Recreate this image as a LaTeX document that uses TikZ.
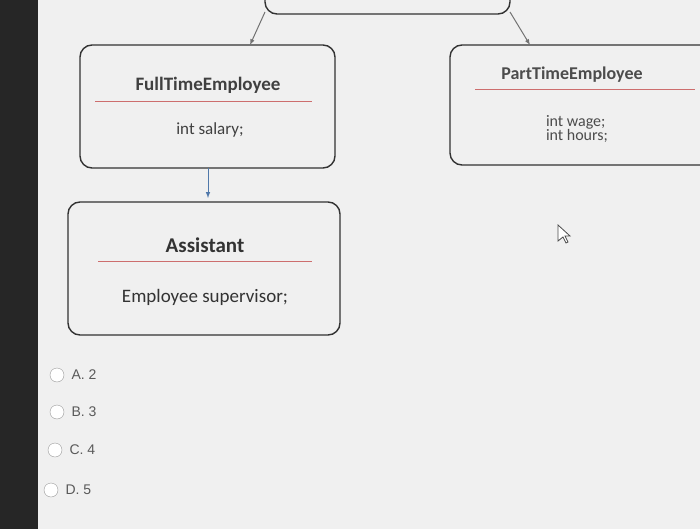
\documentclass[tikz,border=0pt]{standalone}
\usepackage{fontspec}
\setmainfont{Carlito}
\setsansfont{Liberation Sans}
\definecolor{sepred}{RGB}{205,110,110}
\definecolor{arrblue}{RGB}{80,120,170}
\begin{document}
\begin{tikzpicture}[x=1pt,y=-1pt,
  cls/.style={draw=black!80,line width=1.4pt,rounded corners=12pt},
  sep/.style={draw=sepred,line width=0.8pt},
  arr/.style={draw=black!55,line width=1pt,-latex},
  radio/.style={circle,draw=black!40,fill=white,minimum size=14pt,inner sep=0pt},
  opt/.style={font=\sffamily\fontsize{14}{16}\selectfont,text=black!65,anchor=west}]
\fill[gray!12] (0,0) rectangle (700,529);
\fill[black!85] (0,0) rectangle (38,529);
\useasboundingbox (0,0) rectangle (700,529);
\coordinate (tl) at (265,12);
\coordinate (tr) at (510,12);
\draw[cls] (265,-20) rectangle (510,14);
\draw[cls] (80,45) rectangle (335,168);
\node (fte) at (208,85) {\fontsize{19}{22}\selectfont\bfseries\color{black!75}FullTimeEmployee};
\draw[sep] (95,101) -- (312,101);
\node (sal) at (210,130) {\fontsize{17}{20}\selectfont\color{black!75}int salary;};
\draw[cls] (450,45) rectangle (720,165);
\node (pte) at (572,75) {\fontsize{18}{21}\selectfont\bfseries\color{black!70}PartTimeEmployee};
\draw[sep] (475,89) -- (695,89);
\node[align=left] (wage) at (577,129) {\fontsize{16}{22}\selectfont\color{black!70}int wage;\\\fontsize{16}{22}\selectfont\color{black!70}int hours;};
\coordinate (fb) at (250,45);
\coordinate (pb) at (530,45);
\draw[arr] (tl) -- (fb);
\draw[arr] (tr) -- (pb);
\coordinate (f1) at (208,168);
\coordinate (a1) at (208,198);
\draw[arr,draw=arrblue] (f1) -- (a1);
\draw[cls] (68,202) rectangle (340,335);
\node (asst) at (205,245) {\fontsize{21}{24}\selectfont\bfseries\color{black!80}Assistant};
\draw[sep] (98,261) -- (312,261);
\node (sup) at (205,297) {\fontsize{19}{22}\selectfont\color{black!80}Employee supervisor;};
\node[radio] (ra) at (57,375) {};
\node[opt] at (68,375) {A. 2};
\node[radio] (rb) at (57,412) {};
\node[opt] at (68,412) {B. 3};
\node[radio] (rc) at (55,450) {};
\node[opt] at (66,450) {C. 4};
\node[radio] (rd) at (51,490) {};
\node[opt] at (62,490) {D. 5};
\draw[black!70,fill=white,line width=0.8pt] (558,225) -- (570,236) -- (565,236) -- (568,242) -- (566,243) -- (563,237) -- (558,241) -- cycle;
\end{tikzpicture}
\end{document}
